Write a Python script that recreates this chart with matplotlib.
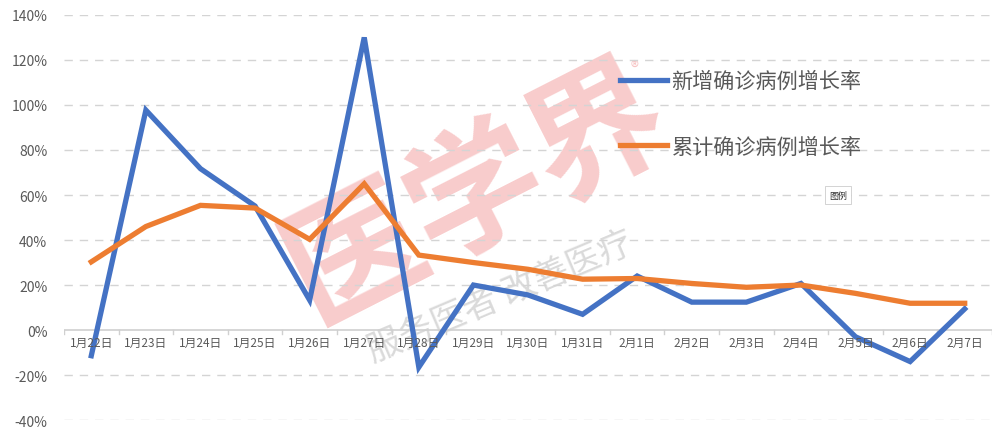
import numpy as np
import matplotlib.pyplot as plt

plt.rcParams['font.family'] = ['Noto Sans CJK SC', 'DejaVu Sans']

dates = ['1月22日', '1月23日', '1月24日', '1月25日', '1月26日', '1月27日', '1月28日',
         '1月29日', '1月30日', '1月31日', '2月1日', '2月2日', '2月3日', '2月4日',
         '2月5日', '2月6日', '2月7日']
new_rate = [-11.4, 97.7, 71.7, 55.1, 13.3, 130.0, -16.5, 20.0, 15.6, 7.0,
            24.0, 12.4, 12.4, 20.7, -3.0, -14.0, 9.4]
cum_rate = [30.3, 46.0, 55.4, 54.2, 40.3, 65.0, 33.3, 30.0, 27.0, 22.6,
            22.9, 20.7, 19.0, 20.0, 16.3, 11.9, 11.9]
yticks = list(range(-40, 141, 20))

fig = plt.figure(figsize=(10, 4.31), dpi=100)
ax = fig.add_axes([0.064, 0.023, 0.928, 0.94])

x = np.arange(len(dates))

# grid
for v in yticks:
    if v == 0:
        ax.axhline(v, color='#d0d0d0', lw=1.2, zorder=1)
    else:
        ax.axhline(v, color='#d4d4d4', lw=1, ls=(0, (6, 5)), zorder=1)

# watermark
ax.text(0.445, 0.56, '医学界', transform=ax.transAxes, fontsize=98, color='#ee7f7f',
        alpha=0.4, rotation=27, ha='center', va='center', weight='bold', zorder=0)
ax.text(0.615, 0.87, '®', transform=ax.transAxes, fontsize=12, color='#f08a8a',
        alpha=0.5, ha='center', va='center', zorder=0)
ax.text(0.47, 0.305, '服务医者 改善医疗', transform=ax.transAxes, fontsize=25,
        color='#bbbbbb', alpha=0.55, rotation=23, ha='center', va='center', zorder=0)

ax.plot(x, new_rate, color='#4472C4', lw=3.8, solid_joinstyle='miter', zorder=3,
        label='新增确诊病例增长率')
ax.plot(x, cum_rate, color='#ED7D31', lw=3.8, solid_joinstyle='miter', zorder=4,
        label='累计确诊病例增长率')

ax.set_xlim(-0.5, len(dates) - 0.5)
ax.set_ylim(-40, 140)
ax.set_yticks(yticks)
ax.set_yticklabels([f'{v}%' for v in yticks], fontsize=10, color='#595959')
ax.tick_params(axis='y', length=0, pad=12)
ax.set_xticks([])
for s in ax.spines.values():
    s.set_visible(False)

# category labels and tick marks on the 0% line
for i, d in enumerate(dates):
    ax.text(i, -2.5, d, ha='center', va='top', fontsize=8.5, color='#595959')
for b in np.arange(-0.5, len(dates), 1.0):
    ax.plot([b, b], [0, -1.6], color='#d0d0d0', lw=1, zorder=1)

leg = ax.legend(loc='upper left', bbox_to_anchor=(0.599, 0.864), frameon=False,
                fontsize=15.2, handlelength=2.25, labelspacing=2.05, handletextpad=0.2,
                borderpad=0, borderaxespad=0, labelcolor='#595959')

ax.text(0.834, 0.5555, '图例', transform=ax.transAxes, fontsize=6.5, color='#333333',
        ha='center', va='center',
        bbox=dict(boxstyle='square,pad=0.45', fc='white', ec='#cccccc', lw=0.6))

fig.savefig('out.png', dpi=100)
